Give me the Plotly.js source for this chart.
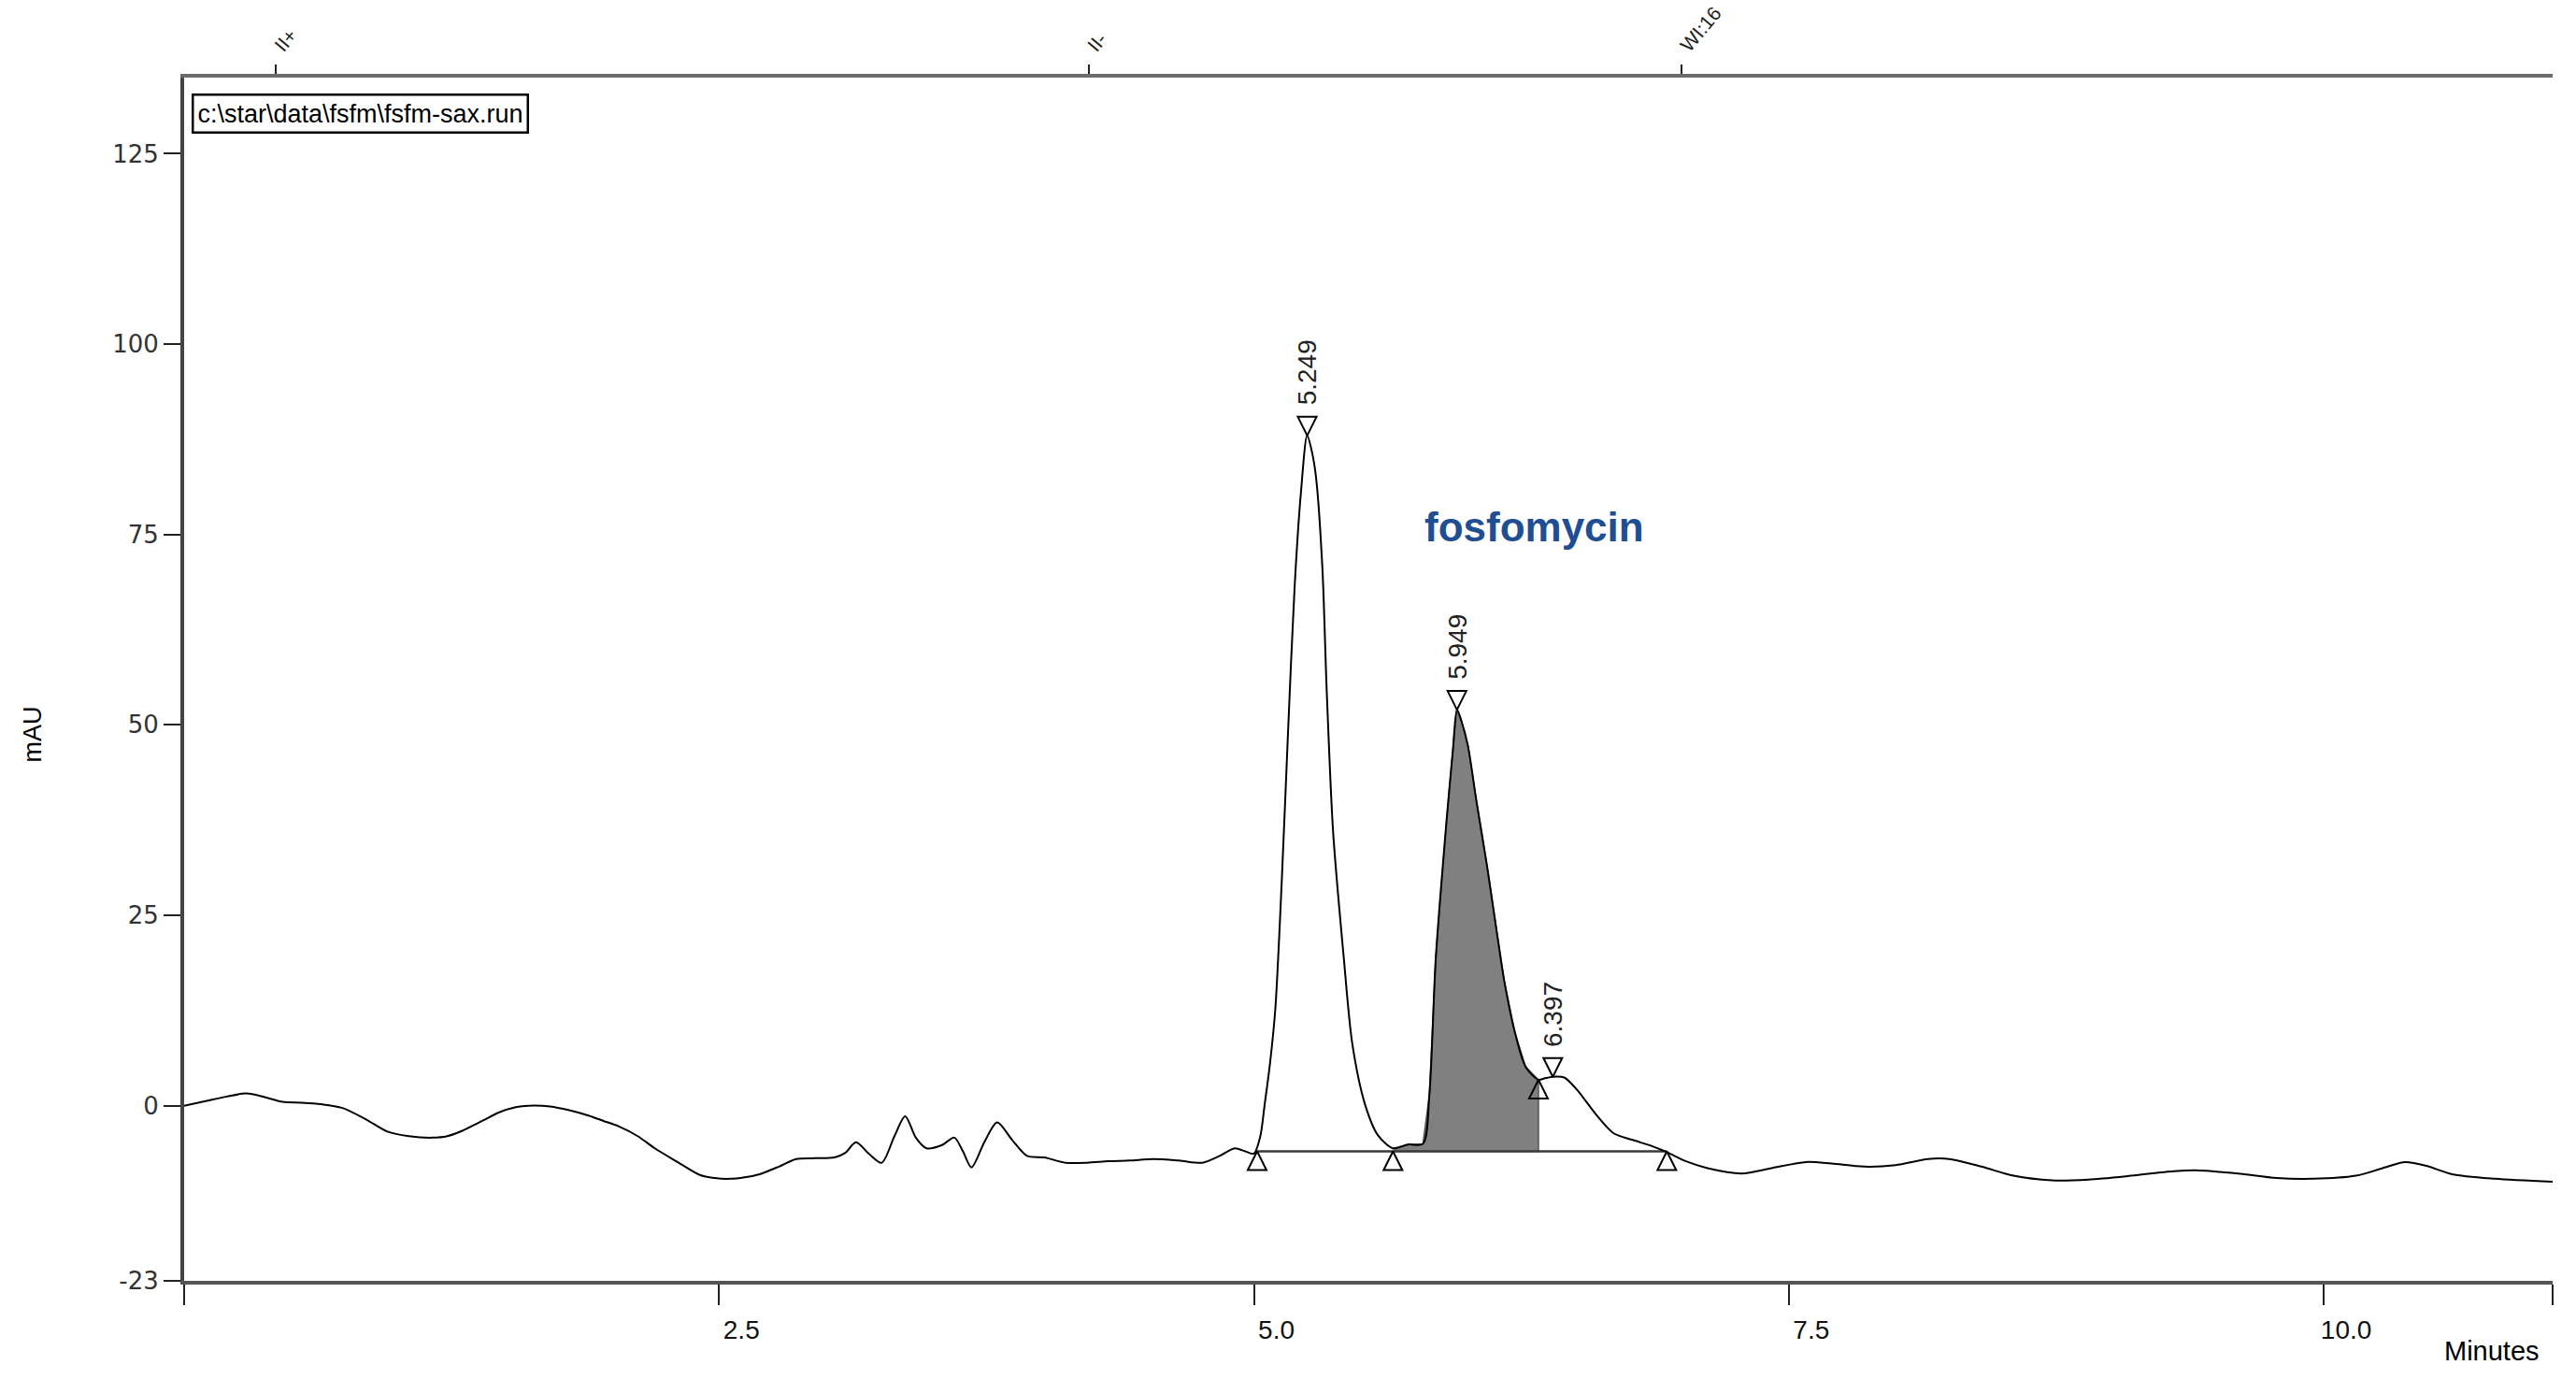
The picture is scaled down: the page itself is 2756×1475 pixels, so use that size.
<!DOCTYPE html>
<html><head><meta charset="utf-8">
<script src="https://cdn.plot.ly/plotly-3.0.1.min.js"></script>
<style>html,body{margin:0;padding:0;background:#fff}#chart{width:2756px;height:1475px}</style>
</head><body><div id="chart"></div>
<script>
// Chromatogram trace (minutes, mAU)
const time = [0.00,0.10,0.20,0.29,0.38,0.46,0.55,0.64,0.74,0.85,0.95,1.05,1.16,1.23,1.30,1.40,1.47,1.55,1.61,1.71,1.80,1.89,1.96,2.03,2.12,2.20,2.30,2.41,2.48,2.55,2.62,2.69,2.78,2.86,2.95,3.04,3.09,3.14,3.20,3.26,3.32,3.37,3.42,3.47,3.54,3.60,3.64,3.68,3.74,3.80,3.87,3.94,4.02,4.12,4.22,4.32,4.42,4.53,4.65,4.76,4.84,4.91,4.96,5.00,5.03,5.05,5.075,5.10,5.13,5.16,5.19,5.22,5.249,5.27,5.29,5.32,5.34,5.37,5.42,5.46,5.52,5.58,5.65,5.72,5.79,5.82,5.85,5.90,5.93,5.949,5.97,6.00,6.04,6.09,6.13,6.17,6.22,6.27,6.33,6.36,6.397,6.45,6.51,6.60,6.68,6.77,6.86,6.93,7.02,7.12,7.28,7.42,7.58,7.70,7.85,8.00,8.15,8.25,8.40,8.55,8.73,8.90,9.10,9.30,9.42,9.60,9.78,9.95,10.15,10.30,10.38,10.48,10.60,10.80,11.07];
const signal = [0.0,0.6,1.2,1.6,1.1,0.5,0.4,0.2,-0.3,-1.8,-3.4,-4.0,-4.2,-4.0,-3.3,-1.9,-0.9,-0.2,0.0,-0.1,-0.6,-1.3,-2.0,-2.7,-4.0,-5.6,-7.3,-9.1,-9.5,-9.6,-9.4,-9.0,-8.0,-7.0,-6.9,-6.8,-6.2,-4.8,-6.3,-7.5,-4.0,-1.4,-4.2,-5.6,-5.2,-4.2,-6.0,-8.1,-4.8,-2.2,-4.5,-6.6,-6.8,-7.5,-7.5,-7.3,-7.2,-7.0,-7.2,-7.5,-6.6,-5.6,-6.0,-6.3,-4.0,0.1,5.5,12.7,29.4,49.4,68.0,80.6,88.0,86.0,82.6,70.6,54.7,36.0,19.4,8.1,0.1,-3.9,-5.6,-5.1,-5.0,1.4,19.4,37.3,46.7,52.0,50.5,47.3,40.0,31.4,23.8,16.4,9.6,5.1,3.4,3.6,3.8,3.7,2.1,-1.2,-3.6,-4.5,-5.3,-6.1,-7.3,-8.2,-8.9,-8.2,-7.4,-7.6,-8.0,-7.8,-7.0,-7.0,-8.0,-9.2,-9.8,-9.7,-9.2,-8.6,-8.5,-8.9,-9.5,-9.6,-9.2,-8.0,-7.4,-7.9,-9.0,-9.6,-10.0];

// Peak results
const peakTimes = [5.249, 5.949, 6.397];
const peakLabels = ['5.249', '5.949', '6.397'];
// Integration baseline and events
const baselineTimes = [5.015, 5.65, 6.93];
const baselineLevel = -6.0;
const cutTime = 6.33;
const fillStart = 5.65, fillEnd = 6.33;
const eventTimes = [0.43, 4.23, 7.0];
const eventLabels = ['II+', 'II-', 'WI:16'];
// Axes
const xTicks = [0, 2.5, 5, 7.5, 10, 11.07];
const xTickText = ['', '2.5', '5.0', '7.5', '10.0', ''];
const yTicks = [-23, 0, 25, 50, 75, 100, 125];
const yTickText = ['-23', '0', '25', '50', '75', '100', '125'];
const xRange = [0, 11.07];
const yRange = [-23, 135];
const compound = 'fosfomycin';
const fileName = 'c:\\star\\data\\fsfm\\fsfm-sax.run';

function valueAt(t) {
  let best = 0;
  for (let i = 0; i < time.length; i++) if (Math.abs(time[i] - t) < Math.abs(time[best] - t)) best = i;
  return signal[best];
}
const peakHeights = peakTimes.map(valueAt);

// shaded area of fosfomycin peak
const fx = [], fy = [];
for (let i = 0; i < time.length; i++) {
  if (time[i] >= fillStart && time[i] <= fillEnd) { fx.push(time[i]); fy.push(signal[i]); }
}
fx.push(fillEnd, fillStart); fy.push(baselineLevel, baselineLevel);

const traces = [
  {x: fx, y: fy, type: 'scatter', mode: 'lines', fill: 'toself', fillcolor: '#808080',
   line: {color: '#555', width: 1.5}, hoverinfo: 'skip'},
  {x: [baselineTimes[0], baselineTimes[baselineTimes.length - 1]], y: [baselineLevel, baselineLevel],
   type: 'scatter', mode: 'lines', line: {color: '#3a3a3a', width: 2.5}},
  {x: time, y: signal, type: 'scatter', mode: 'lines', line: {color: '#000', width: 2, shape: 'spline', smoothing: 0.8}},
  {x: peakTimes, y: peakHeights, type: 'scatter', mode: 'markers',
   marker: {symbol: 'arrow-down-open', size: 20, color: '#000', line: {color: '#000', width: 2}}},
  {x: baselineTimes.concat([cutTime]), y: baselineTimes.map(() => baselineLevel).concat([valueAt(cutTime)]),
   type: 'scatter', mode: 'markers',
   marker: {symbol: 'arrow-up-open', size: 20, color: '#000', line: {color: '#000', width: 2}}},
  {x: eventTimes, y: eventTimes.map(() => null), xaxis: 'x2', type: 'scatter', mode: 'markers', hoverinfo: 'skip'}
];

const annotations = peakTimes.map((t, i) => ({
  x: t, y: peakHeights[i], xref: 'x', yref: 'y', text: peakLabels[i], showarrow: false,
  textangle: -90, xanchor: 'center', yanchor: 'bottom', yshift: 30,
  font: {size: 28, color: '#222', family: 'Liberation Sans, Arial, sans-serif'}
}));
annotations.push({
  x: 6.31, y: 76, xref: 'x', yref: 'y', text: compound, showarrow: false,
  font: {size: 44, color: '#1f4e93', family: 'Liberation Sans, Arial, sans-serif', weight: 'bold'}
});
annotations.push({
  x: 0.003, y: 0.987, xref: 'paper', yref: 'paper', xanchor: 'left', yanchor: 'top',
  text: fileName, showarrow: false, bgcolor: '#fff', bordercolor: '#000', borderwidth: 2.5, borderpad: 4,
  font: {size: 27, color: '#000', family: 'Liberation Sans, Arial, sans-serif'}
});
annotations.push({
  x: 0.9953, y: -0.058, xref: 'paper', yref: 'paper', xanchor: 'right', yanchor: 'middle',
  text: 'Minutes', showarrow: false, font: {size: 29, color: '#000', family: 'Liberation Sans, Arial, sans-serif'}
});
annotations.push({
  x: -0.064, y: 0.454, xref: 'paper', yref: 'paper', xanchor: 'center', yanchor: 'middle',
  text: 'mAU', textangle: -90, showarrow: false, font: {size: 27, color: '#000', family: 'Liberation Sans, Arial, sans-serif'}
});

const layout = {
  width: 2756, height: 1475,
  margin: {l: 197, r: 25, t: 83, b: 105, pad: 0},
  paper_bgcolor: '#fff', plot_bgcolor: '#fff', showlegend: false,
  font: {family: 'Liberation Sans, Arial, sans-serif', color: '#000'},
  xaxis: {range: xRange, tickmode: 'array', tickvals: xTicks, ticktext: xTickText, ticks: 'outside',
    ticklen: 22, tickwidth: 2, tickcolor: '#222', showline: true, linewidth: 4, linecolor: '#555',
    showgrid: false, zeroline: false, tickfont: {size: 28, color: '#111'}, ticklabelshift: 24, ticklabelstandoff: 2},
  xaxis2: {overlaying: 'x', side: 'top', range: xRange, tickmode: 'array', tickvals: eventTimes, ticktext: eventLabels,
    ticks: 'outside', ticklen: 10, tickwidth: 2, tickcolor: '#222', showline: true, linewidth: 4, linecolor: '#6a6a6a',
    showgrid: false, zeroline: false, tickangle: -50, tickfont: {size: 21, color: '#222'}, ticklabelstandoff: 0},
  yaxis: {range: yRange, tickmode: 'array', tickvals: yTicks, ticktext: yTickText, ticks: 'outside', ticklen: 18,
    tickwidth: 2, tickcolor: '#222', showline: true, linewidth: 4, linecolor: '#444', showgrid: false, zeroline: false,
    tickfont: {family: 'DejaVu Sans, sans-serif', size: 26, color: '#333'}},
  annotations: annotations
};

Plotly.newPlot('chart', traces, layout, {staticPlot: true, displayModeBar: false});
</script>
</body></html>
